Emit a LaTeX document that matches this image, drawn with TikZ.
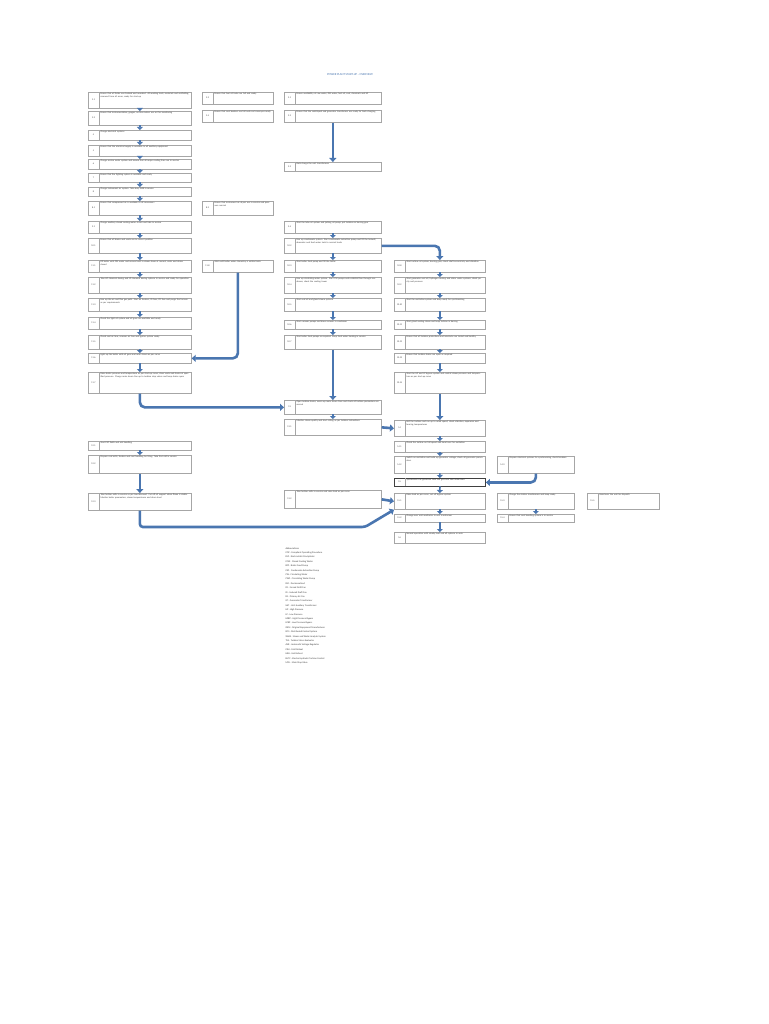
\documentclass[tikz,border=0pt]{standalone}
\usepackage{fontspec}
\setmainfont{Carlito}
\usetikzlibrary{arrows.meta,calc}
\definecolor{ab}{HTML}{4A76B0}
\definecolor{bc}{HTML}{A6A6A6}
\tikzset{
 box/.style={draw=bc,line width=0.7pt,inner sep=0pt,fill=white},
 dbox/.style={draw=black!75,line width=0.9pt,inner sep=0pt,fill=white},
 txt/.style={inner sep=0.3pt,align=left,font=\fontsize{2.3}{2.8}\selectfont,text=black!75},
 lbl/.style={inner sep=0pt,font=\fontsize{2.3}{2.8}\selectfont,text=black!75},
 sa/.style={draw=ab,line width=1.6pt,-{Triangle[width=6pt,length=3pt]},shorten <=-0.5pt},
 ba/.style={draw=ab,line width=2.6pt,-{Triangle[width=7pt,length=4pt]},rounded corners=5pt},
}
\newcommand\bx[8][box]{%
\pgfmathsetmacro\bw{#5-#3}\pgfmathsetmacro\bh{#6-#4}\pgfmathsetmacro\tw{#5-#3-14}\pgfmathsetmacro\ym{(#4+#6)/2}%
\node[#1,minimum width=\bw pt,minimum height=\bh pt,anchor=north west] (#2) at (#3,#4) {};
\draw[bc,line width=0.5pt] (#3+11,#4) -- (#3+11,#6);
\node[lbl] at (#3+5.5,\ym) {#7};
\node[txt,text width=\tw pt,anchor=north west] at (#3+12,#4+0.8) {#8};}
\begin{document}
\begin{tikzpicture}[x=1pt,y=-1pt]
\fill[white] (0,0) rectangle (768,1024);
\useasboundingbox (0,0) rectangle (768,1024);
\node[txt,text=ab,font=\fontsize{3}{3.5}\selectfont] (title) at (350,75) {POWER PLANT START-UP - OVERVIEW};
% left column
\bx{L1}{88}{92}{191}{108}{3.1}{Ensure that all fields are checked and recorded. All working tools, materials and scaffolding removed from all areas, ready for start-up}
\bx{L2}{88}{111}{191}{125}{3.2}{Ensure that instrumentation, gauges, on-line meters are set for monitoring}
\bx{L3}{88}{130}{191}{140}{4}{Charge electrical systems}
\bx{L4}{88}{145}{191}{156}{5}{Ensure that the electrical supply is available to all auxiliary equipment}
\bx{L5}{88}{159}{191}{169}{6}{Charge service water system and ensure that all major cooling lines are in service}
\bx{L6}{88}{173}{191}{182}{7}{Ensure that fire fighting system is available and ready}
\bx{L7}{88}{187}{191}{196}{8}{Charge instrument air system. Take duty ABB in service}
\bx{L8}{88}{201}{191}{215}{8.1}{Ensure that compressed air is available to all consumers}
\bx{L9}{88}{221}{191}{233}{9.1}{Charge auxiliary closed cooling water circuit and take in service}
\bx{L10}{88}{238}{191}{253}{10.1}{Ensure that all drains and vents are in correct position}
\bx{L11}{88}{260}{191}{272}{11.1}{Fill boiler with DM water and ensure level in steam drum at normal, vents and drains closed}
\bx{L12}{88}{277}{191}{293}{11.2}{Take HP chemical dosing and LP chemical dosing systems in service and ready for operation}
\bx{L13}{88}{298}{191}{311}{11.3}{Line up the air and flue gas path. Start air heaters, ID fans, FD fans and purge the furnace as per requirements}
\bx{L14}{88}{317}{191}{329}{11.4}{Check the light oil system and oil guns are available and ready}
\bx{L15}{88}{335}{191}{349}{11.5}{Check seal air fans, scanner air fans and ignitor system ready}
\bx{L16}{88}{353}{191}{363}{11.6}{Light up the boiler with oil guns and raise steam as per curve}
\bx{L17}{88}{372}{191}{393}{11.7}{Raise boiler pressure and temperature as per start-up curve, close vents and drains at specified pressure. Charge main steam line up to turbine stop valves and keep drains open}
\bx{L18}{88}{441}{191}{450}{12.1}{Start ESP fields and ash handling}
\bx{L19}{88}{455}{191}{473}{12.2}{Prepare coal mills, feeders and coal handling for firing. Take first mill in service}
\bx{L20}{88}{493}{191}{510}{12.3}{Take further mills in service as per load demand. Cut off oil support when flame is stable. Monitor boiler parameters, steam temperatures and drum level}
% column B
\bx{B1}{202}{92}{273}{104}{3.3}{Ensure that fuel oil tanks are full and ready}
\bx{B2}{202}{110}{273}{122}{3.4}{Ensure that coal bunkers are full and coal conveyors ready}
\bx{B3}{202}{201}{273}{215}{8.2}{Ensure that instrument air dryers are in service and pressure normal}
\bx{B4}{202}{260}{273}{272}{11.8}{Wait until boiler water chemistry is within limits}
% column C
\bx{C1}{284}{92}{381}{104}{2.1}{Ensure availability of raw water, DM water, fuel oil, coal, chemicals and H2}
\bx{C2}{284}{110}{381}{122}{2.2}{Ensure that the switchyard and generator transformer are ready for back charging}
\bx{C3}{284}{162}{381}{171}{2.3}{Back charge the unit transformers}
\bx{C4}{284}{221}{381}{233}{2.4}{Start the lube oil system and jacking oil pump, put turbine on barring gear}
\bx{C5}{284}{238}{381}{253}{10.2}{Line up condensate system. Start condensate extraction pump and fill the hotwell, deaerator and feed water tank to normal levels}
\bx{C6}{284}{260}{381}{272}{10.3}{Start boiler feed pump and fill the boiler}
\bx{C7}{284}{277}{381}{293}{10.4}{Line up circulating water system. Start CW pumps and establish flow through condenser, check the cooling tower}
\bx{C8}{284}{298}{381}{311}{10.5}{Start seal oil and gland steam systems}
\bx{C9}{284}{320}{381}{329}{10.6}{Start vacuum pumps and draw vacuum in condenser}
\bx{C10}{284}{335}{381}{349}{10.7}{Start boiler feed pumps as required. Keep feed water heating in service}
\bx{C11}{284}{400}{381}{414}{13}{Open turbine drains, warm up main steam lines and check all turbine parameters are normal}
\bx{C12}{284}{419}{381}{435}{13.1}{Monitor steam quality and start rolling as per turbine instructions}
\bx{C13}{284}{490}{381}{508}{13.2}{Take further mills in service and raise load as per curve}
% column D
\bx{D1}{394}{260}{485}{272}{10.8}{Start turbine oil system, barring gear, check shaft eccentricity and vibration}
\bx{D2}{394}{277}{485}{293}{10.9}{Start generator seal oil, hydrogen cooling and stator water systems, check purity and pressure}
\bx{D3}{394}{298}{485}{311}{10.10}{Start the excitation system and keep ready for synchronising}
\bx{D4}{394}{320}{485}{329}{10.11}{Start gland sealing steam and keep turbine in barring}
\bx{D5}{394}{335}{485}{349}{10.12}{Ensure that all turbine protections and interlocks are tested and healthy}
\bx{D6}{394}{353}{485}{363}{10.13}{Ensure that turbine drains are open as required}
\bx{D7}{394}{372}{485}{393}{10.14}{Start the HP and LP bypass system and control steam pressure and temperature as per start-up curve}
\bx{D8}{394}{420}{485}{436}{14}{Roll the turbine and run up to rated speed, check vibration, expansion and bearing temperatures}
\bx{D9}{394}{441}{485}{452}{14.1}{Check the turbine on full speed and hand over for excitation}
\bx{D10}{394}{456}{485}{473}{14.2}{Switch on excitation and build up generator voltage, check all generator parameters}
\bx[dbox]{D11}{394}{478}{485}{486}{15}{Synchronise the generator with the grid and take initial load}
\bx{D12}{394}{493}{485}{509}{15.1}{Raise load as per curve, cut off bypass system}
\bx{D13}{394}{514}{485}{522}{15.2}{Change over unit auxiliaries to unit transformer}
\bx{D14}{394}{532}{485}{543}{16}{Normal operation with steady load and all systems in auto}
% columns E, F
\bx{E1}{497}{456}{574}{473}{14.3}{Prepare electrical systems for synchronising, check breakers}
\bx{E2}{497}{493}{574}{509}{15.3}{Charge the station transformers and keep ready}
\bx{E3}{497}{514}{574}{522}{15.4}{Ensure that coal handling system is in service}
\bx{F1}{587}{493}{659}{509}{15.5}{Hand over the unit for dispatch}
% small arrows
\foreach \a/\b in {L1/L2,L2/L3,L3/L4,L4/L5,L5/L6,L6/L7,L7/L8,L8/L9,L9/L10,L10/L11,L11/L12,L12/L13,L13/L14,L14/L15,L15/L16,L16/L17,L18/L19,
 C4/C5,C5/C6,C6/C7,C7/C8,C8/C9,C9/C10,C11/C12,
 D1/D2,D2/D3,D3/D4,D4/D5,D5/D6,D6/D7,D8/D9,D9/D10,D10/D11,D11/D12,D12/D13,D13/D14,E2/E3}
 \draw[sa] (\a.south) -- (\b.north);
% big arrows
\draw[ba] (C2.south) -- (C3.north);
\draw[ba] (C5.east) -| (D1.north);
\draw[ba] (B4.south) |- (L16.east);
\draw[ba] (L17.south) |- (C11.west);
\draw[ba] (C10.south) -- (C11.north);
\draw[ba] (C12.east) -- (D8.west);
\draw[ba] (D7.south) -- (D8.north);
\draw[ba] (L19.south) -- (L20.north);
\draw[ba] (E1.south) |- (D11.east);
\draw[ba] (C13.east) -- (D12.west);
\coordinate (k1) at (365,527);
\draw[ba,rounded corners=3pt] (L20.south) |- (k1) -- (D12.south west);
% abbreviations
\node[txt,anchor=north west,font=\fontsize{2.4}{4.4}\selectfont] (abbr) at (285,547) {Abbreviations\\
COP - Compliant Operating Procedure\\
ESP - Electrostatic Precipitator\\
CCW - Closed Cooling Water\\
BFP - Boiler Feed Pump\\
CEP - Condensate Extraction Pump\\
CW - Circulating Water\\
CWP - Circulating Water Pump\\
DM - Demineralised\\
FD - Forced Draft Fan\\
ID - Induced Draft Fan\\
PA - Primary Air Fan\\
GT - Generator Transformer\\
UAT - Unit Auxiliary Transformer\\
HP - High Pressure\\
LP - Low Pressure\\
HPBP - High Pressure Bypass\\
LPBP - Low Pressure Bypass\\
OEM - Original Equipment Manufacturer\\
DCS - Distributed Control System\\
SWAS - Steam and Water Analysis System\\
TSE - Turbine Stress Evaluator\\
AVR - Automatic Voltage Regulator\\
CRH - Cold Reheat\\
HRH - Hot Reheat\\
EHTC - Electro Hydraulic Turbine Control\\
MSV - Main Stop Valve};
\end{tikzpicture}
\end{document}
